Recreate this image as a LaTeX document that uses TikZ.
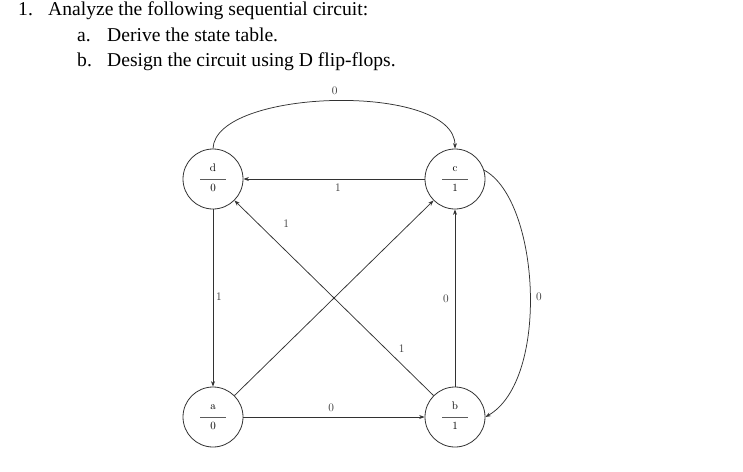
\documentclass[tikz,border=0pt]{standalone}
\usepackage{fontspec}
\setmainfont{Liberation Serif}
\newfontfamily\lmfont{Latin Modern Roman}
\usetikzlibrary{arrows.meta}
\definecolor{ink}{RGB}{50,50,50}
\newcommand{\stfrac}[2]{\lmfont\fontsize{11}{13}\selectfont\begin{tabular}{@{}c@{}}\makebox[26pt]{#1}\\[-4.5pt]\textcolor{ink!80}{\rule{26pt}{0.5pt}}\\[-1pt]#2\end{tabular}}
\begin{document}
\begin{tikzpicture}[x=1pt,y=-1pt,
  hdr/.style={anchor=base west,inner sep=0pt,font=\fontsize{19.6}{22}\selectfont},
  st/.style={circle,draw=ink,line width=0.8pt,minimum size=60pt,inner sep=0pt},
  tr/.style={draw=ink,line width=0.75pt,-{Stealth[length=5.5pt,width=4pt]}},
  lb/.style={inner sep=0pt,font=\lmfont\fontsize{11.5}{13}\selectfont,text=ink}]
\useasboundingbox (0,0) rectangle (743,471);
\node[hdr] (n1) at (18,16) {1.};
\node[hdr] (q) at (48,16) {Analyze the following sequential circuit:};
\node[hdr] (na) at (77,41) {a.};
\node[hdr] (qa) at (107,41) {Derive the state table.};
\node[hdr] (nb) at (77,66) {b.};
\node[hdr] (qb) at (107,66) {Design the circuit using D flip-flops.};

\node[st] (d) at (213,179) {\stfrac{d}{0}};
\node[st] (c) at (455,179) {\stfrac{c}{1}};
\node[st] (a) at (213,417) {\stfrac{a}{0}};
\node[st] (b) at (455,417) {\stfrac{b}{1}};

\draw[tr] (d.north) .. controls (215,88) and (455,82) .. node[lb,pos=0.5,yshift=10pt] (l1) {0} (c.north);
\draw[tr] (c.west) -- node[lb,pos=0.478,yshift=-9pt] (l2) {1} (d.east);
\draw[tr] (b.135) -- node[lb,pos=0.81,xshift=14pt,yshift=14pt] (l3) {1}
                     node[lb,pos=0.2,xshift=8pt,yshift=8pt] (l4) {1} (d.-45);
\draw[tr] (a.45) -- (c.225);
\draw[tr] (d.south) -- node[lb,pos=0.49,xshift=6pt] (l5) {1} (a.north);
\draw[tr] (a.east) -- node[lb,pos=0.484,yshift=9pt] (l6) {0} (b.west);
\draw[tr] (b.north) -- node[lb,pos=0.494,xshift=-9pt] (l7) {0} (c.south);
\draw[tr] (c.17) .. controls (540,200) and (550,380) .. node[lb,pos=0.5,xshift=9pt,yshift=-6pt] (l8) {0} (b.east);
\end{tikzpicture}
\end{document}
